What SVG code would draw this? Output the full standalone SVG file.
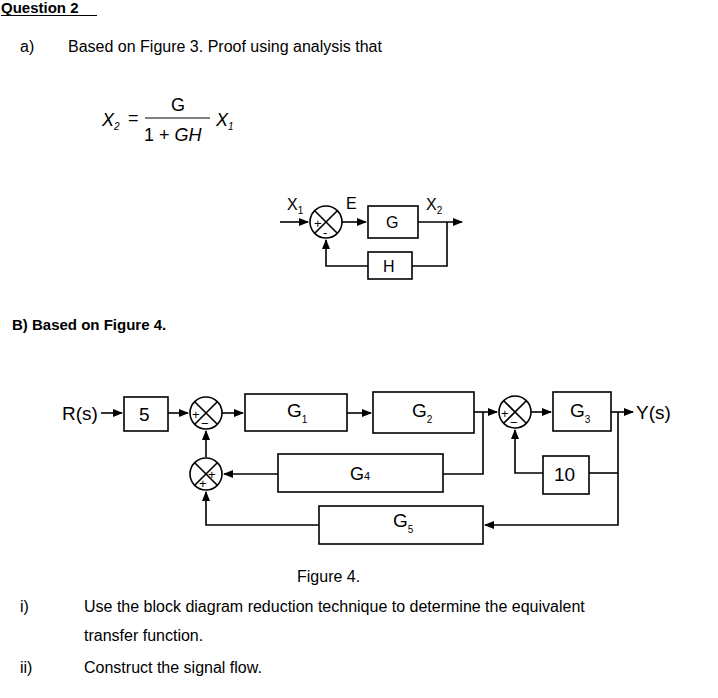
<svg xmlns="http://www.w3.org/2000/svg" width="718" height="698" viewBox="0 0 718 698">
<style>
text{font-family:"Liberation Sans",Arial,sans-serif;fill:#000}
.b{font-weight:bold;font-size:15px}
.t{font-size:16px}
.blk{fill:#fff;stroke:#000;stroke-width:1.6}
.ln{fill:none;stroke:#000;stroke-width:1.6}
.lbl{font-size:19px}
.sub{font-size:10px}
.sg{font-size:13px}
</style>
<defs>
<marker id="ar" markerWidth="10" markerHeight="8" refX="9" refY="4" orient="auto" markerUnits="userSpaceOnUse">
<path d="M0,0 L10,4 L0,8 Z" fill="#000"/>
</marker>
<g id="sumsym"><circle r="16" class="blk"/><path d="M-11.3,-11.3 L11.3,11.3 M11.3,-11.3 L-11.3,11.3" class="ln"/></g>
</defs>
<rect width="718" height="698" fill="#fff"/>
<text class="b" x="1" y="13">Question 2</text>
<line x1="1" y1="15.5" x2="97" y2="15.5" stroke="#000" stroke-width="1.2"/>
<text class="t" x="20" y="52">a)</text>
<text class="t" x="68" y="52">Based on Figure 3. Proof using analysis that</text>
<g id="formula" font-size="18">
<text x="102" y="126" font-style="italic">X<tspan font-size="10" dy="4">2</tspan></text>
<text x="128" y="124">=</text>
<line x1="145" y1="118" x2="210" y2="118" stroke="#000" stroke-width="1.2"/>
<text x="171" y="111">G</text>
<text x="144" y="141">1 + <tspan font-style="italic">GH</tspan></text>
<text x="216" y="126" font-style="italic">X<tspan font-size="10" dy="4">1</tspan></text>
</g>
<g id="fig3">
<g id="connectors3">
<path d="M280,222 H308" class="ln" marker-end="url(#ar)"/>
<path d="M342,222 H366" class="ln" marker-end="url(#ar)"/>
<path d="M418,222 H462" class="ln" marker-end="url(#ar)"/>
<path d="M447,222 V266 H412" class="ln"/>
<path d="M368,266 H326 V240" class="ln" marker-end="url(#ar)"/>
</g>
<g id="s0"><use href="#sumsym" x="326" y="222"/><text class="sg" x="314" y="228">+</text><text class="sg" x="323" y="237">-</text></g>
<g id="nG"><rect class="blk" x="368" y="206" width="50" height="32"/><text x="386" y="228" font-size="16">G</text></g>
<g id="nH"><rect class="blk" x="368" y="252" width="44" height="27"/><text x="383" y="272" font-size="16">H</text></g>
<text x="287" y="210" font-size="16">X<tspan class="sub" dy="4">1</tspan></text>
<text x="346" y="209" font-size="16">E</text>
<text x="426" y="210" font-size="16">X<tspan class="sub" dy="4">2</tspan></text>
</g>
<text class="b" x="12" y="330">B) Based on Figure 4.</text>
<g id="fig4">
<g id="connectors">
<path d="M101,413 H122" class="ln" marker-end="url(#ar)"/>
<path d="M168,413 H188" class="ln" marker-end="url(#ar)"/>
<path d="M222,413 H243" class="ln" marker-end="url(#ar)"/>
<path d="M347,413 H371" class="ln" marker-end="url(#ar)"/>
<path d="M474,412 H497" class="ln" marker-end="url(#ar)"/>
<path d="M443,474 H483 V412" class="ln"/>
<path d="M531,412 H551" class="ln" marker-end="url(#ar)"/>
<path d="M611,412 H633" class="ln" marker-end="url(#ar)"/>
<path d="M618,412 V525 H485" class="ln" marker-end="url(#ar)"/>
<path d="M618,473 H589" class="ln"/>
<path d="M543,473 H515 V430" class="ln" marker-end="url(#ar)"/>
<path d="M278,474 H224" class="ln" marker-end="url(#ar)"/>
<path d="M206,457 V431" class="ln" marker-end="url(#ar)"/>
<path d="M319,525 H206 V492" class="ln" marker-end="url(#ar)"/>
</g>
<text x="62" y="420" class="lbl">R(s)</text>
<g id="n5"><rect class="blk" x="124" y="397" width="44" height="34"/><text x="139" y="421" class="lbl">5</text></g>
<g id="s1"><use href="#sumsym" x="206" y="413"/><text class="sg" x="192" y="419">+</text><text class="sg" x="201" y="428">−</text></g>
<g id="nG1"><rect class="blk" x="245" y="394" width="102" height="37"/><text x="287" y="417" class="lbl">G<tspan class="sub" dy="6">1</tspan></text></g>
<g id="nG2"><rect class="blk" x="373" y="392" width="101" height="41"/><text x="412" y="417" class="lbl">G<tspan class="sub" dy="6">2</tspan></text></g>
<g id="s3"><use href="#sumsym" x="515" y="412"/><text class="sg" x="501" y="418">+</text><text class="sg" x="510" y="427">−</text></g>
<g id="nG3"><rect class="blk" x="553" y="392" width="58" height="39"/><text x="570" y="417" class="lbl">G<tspan class="sub" dy="6">3</tspan></text></g>
<text x="636" y="419" class="lbl">Y(s)</text>
<g id="s2"><use href="#sumsym" x="206" y="474"/><text class="sg" x="208" y="479">+</text><text class="sg" x="199" y="488">+</text></g>
<g id="nG4"><rect class="blk" x="278" y="454" width="165" height="38"/><text x="350" y="480" font-size="18">G<tspan font-size="11">4</tspan></text></g>
<g id="n10"><rect class="blk" x="543" y="456" width="46" height="38"/><text x="554" y="481" class="lbl">10</text></g>
<g id="nG5"><rect class="blk" x="319" y="506" width="164" height="38"/><text x="393" y="527" class="lbl">G<tspan class="sub" dy="6">5</tspan></text></g>
</g>
<text class="t" x="297" y="582">Figure 4.</text>
<text class="t" x="20" y="612">i)</text>
<text class="t" x="84" y="612">Use the block diagram reduction technique to determine the equivalent</text>
<text class="t" x="84" y="641">transfer function.</text>
<text class="t" x="20" y="673">ii)</text>
<text class="t" x="84" y="673">Construct the signal flow.</text>
</svg>
